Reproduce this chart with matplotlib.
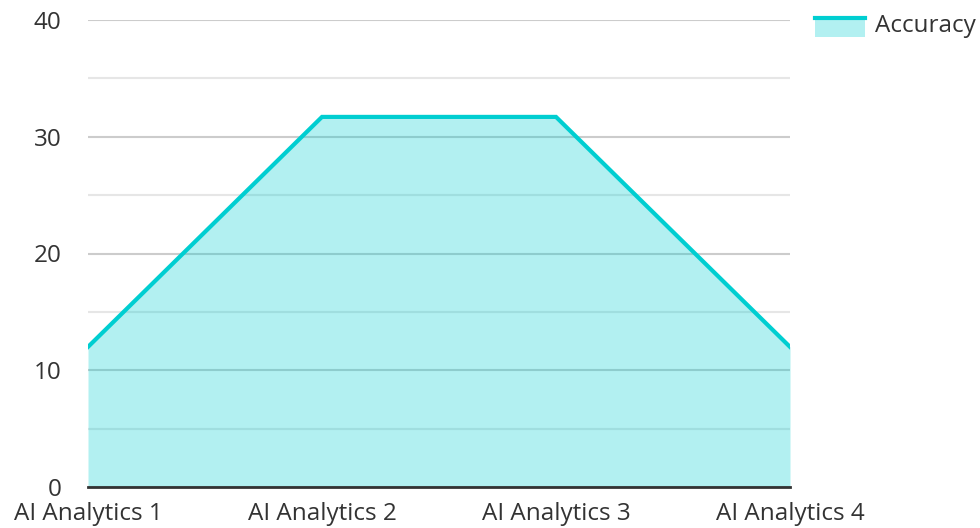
import matplotlib.pyplot as plt
from matplotlib.legend_handler import HandlerBase
from matplotlib.patches import Rectangle
from matplotlib.lines import Line2D

plt.rcParams['font.family'] = ['Open Sans', 'DejaVu Sans']

categories = ['AI Analytics 1', 'AI Analytics 2', 'AI Analytics 3', 'AI Analytics 4']
accuracy = [12, 31.7, 31.7, 12]
y_ticks = [0, 10, 20, 30, 40]
y_minor = [5, 15, 25, 35]

line_color = '#00CED1'


class FillLineHandler(HandlerBase):
    def create_artists(self, legend, orig_handle, xdescent, ydescent,
                       width, height, fontsize, trans):
        rect = Rectangle((-xdescent, -ydescent - 4), width, height + 1,
                         facecolor=line_color, alpha=0.3, edgecolor='none',
                         transform=trans)
        line = Line2D([-xdescent, -xdescent + width],
                      [height - ydescent - 2] * 2,
                      color=line_color, lw=3, transform=trans)
        return [rect, line]


fig = plt.figure(figsize=(9.8, 5.28), dpi=100)
ax = fig.add_axes([88 / 980, 1 - 487 / 528, (790 - 88) / 980, (487 - 20) / 528])
ax.set_axisbelow(True)

x = list(range(len(categories)))
ax.fill_between(x, accuracy, 0, color=line_color, alpha=0.3, linewidth=0, zorder=1)
ax.plot(x, accuracy, color=line_color, lw=3, zorder=2, solid_joinstyle='miter')

ax.set_xlim(0, len(categories) - 1)
ax.set_ylim(0, 40)
ax.set_yticks(y_ticks)
ax.set_yticks(y_minor, minor=True)
ax.set_xticks(x)
ax.set_xticklabels(categories)

ax.grid(axis='y', which='major', color='#cccccc', lw=1.5)
ax.grid(axis='y', which='minor', color='#e6e6e6', lw=1.5)
ax.grid(axis='x', visible=False)

for s in ['top', 'right', 'left']:
    ax.spines[s].set_visible(False)
ax.spines['bottom'].set_color('#333333')
ax.spines['bottom'].set_linewidth(2)
ax.spines['bottom'].set_zorder(3)

ax.tick_params(axis='y', which='both', length=0, pad=19, labelsize=17.5, labelcolor='#333333')
ax.tick_params(axis='x', length=0, pad=11, labelsize=17.5, labelcolor='#333333')

proxy = Rectangle((0, 0), 1, 1)
fig.legend([proxy], ['Accuracy'], handler_map={Rectangle: FillLineHandler()},
           loc='upper left', bbox_to_anchor=(815 / 980, 1 - 14 / 528),
           frameon=False, fontsize=17.5, borderpad=0, borderaxespad=0,
           handlelength=2.05, handleheight=0.6, handletextpad=0.4,
           labelcolor='#333333')

fig.savefig('out.png', dpi=100)
